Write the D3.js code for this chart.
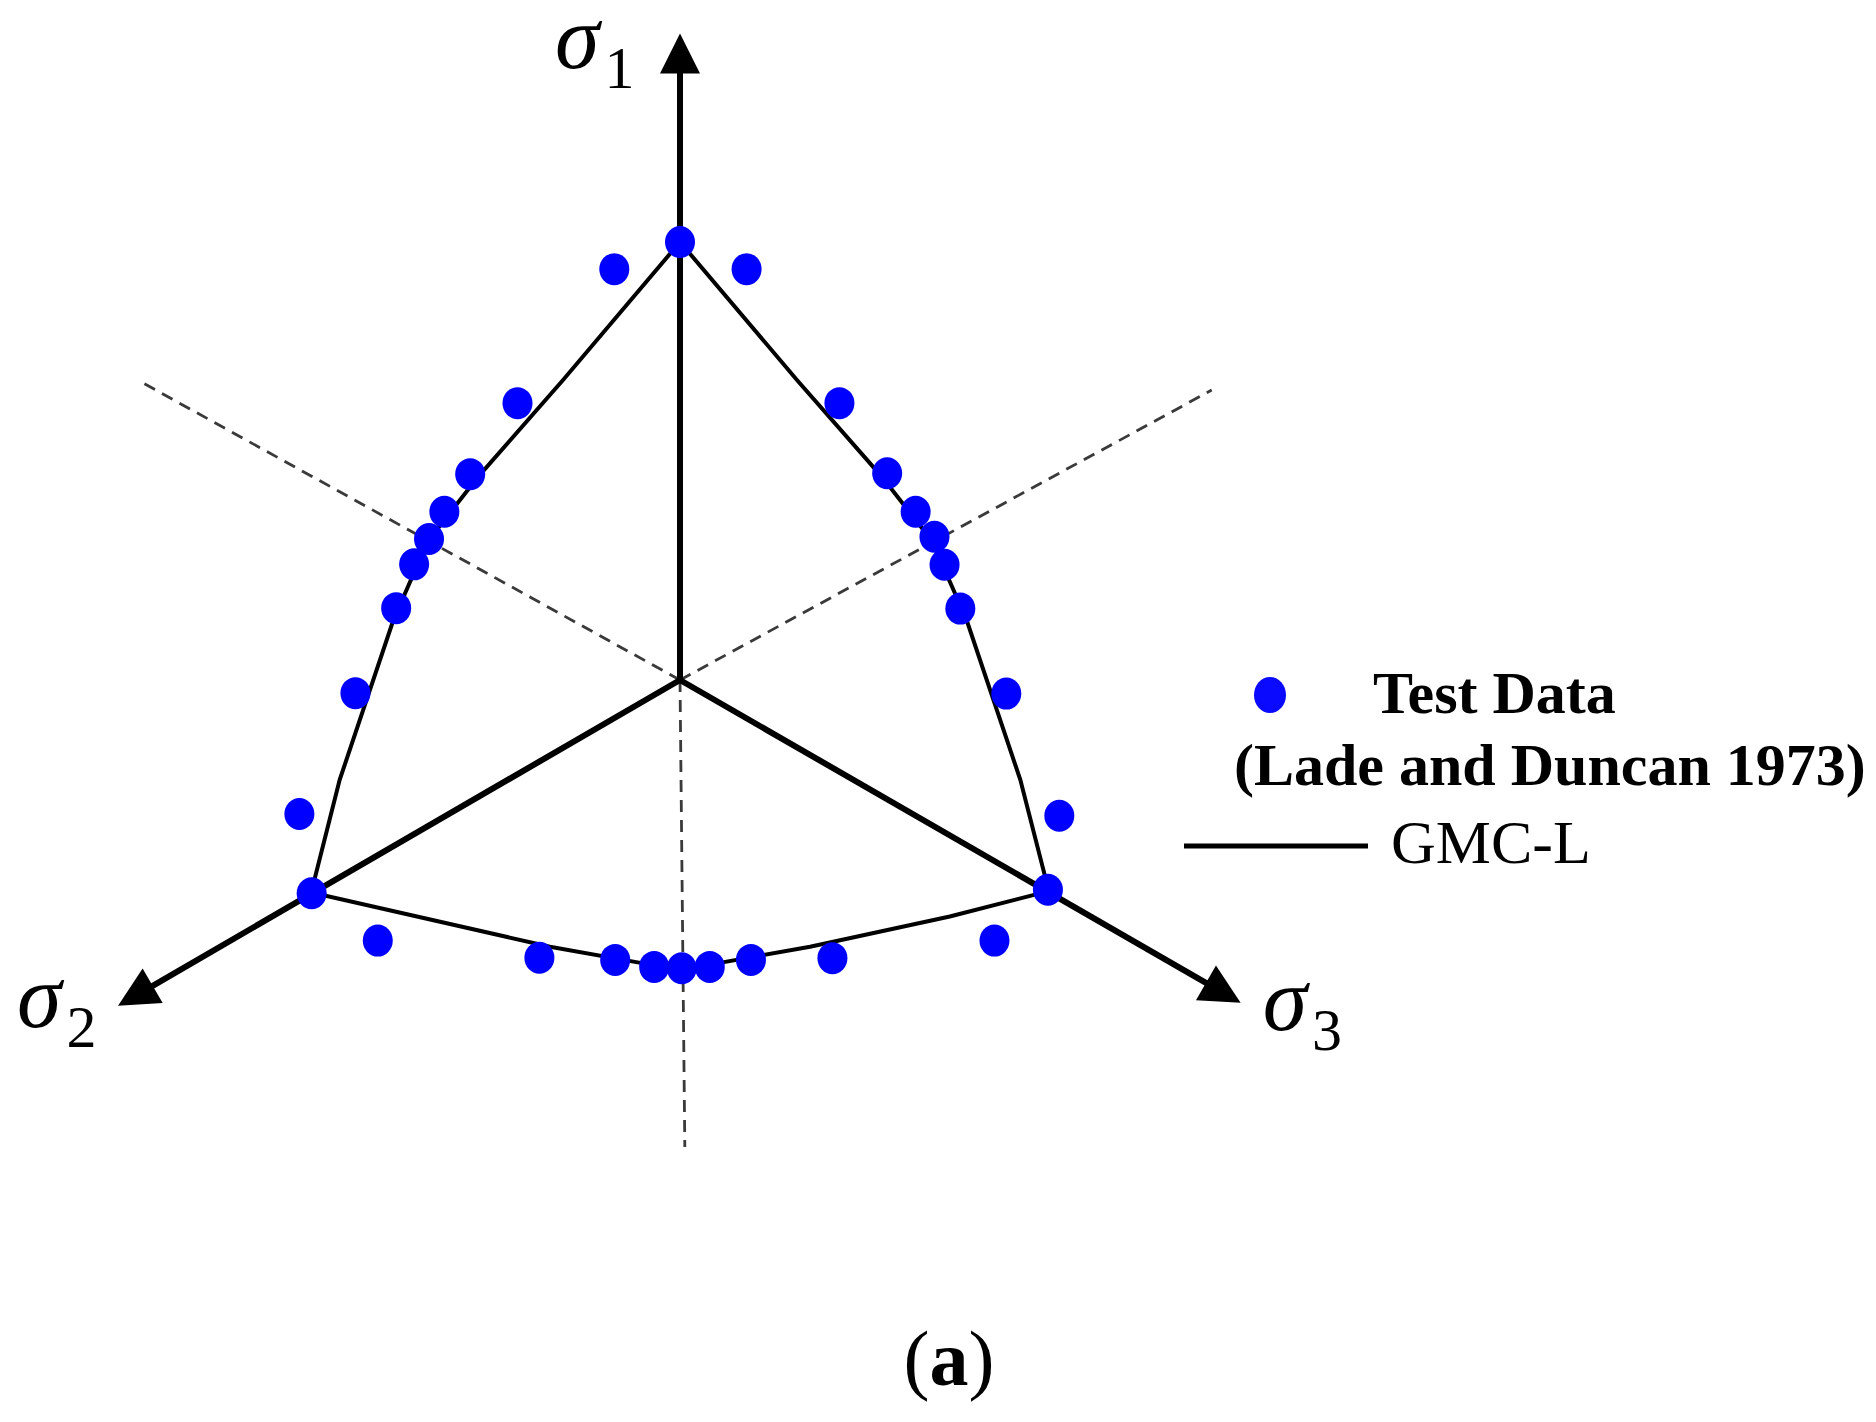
<!DOCTYPE html>
<html>
<head>
<meta charset="utf-8">
<script src="https://cdn.jsdelivr.net/npm/d3@7"></script>
<style>
  body { margin: 0; background: #fff; }
  text { font-family: "Liberation Serif", "Times New Roman", serif; fill: #000; }
</style>
</head>
<body>
<div id="chart"></div>
<script>
var width = 1876,
    height = 1422;

// deviatoric (pi-plane) coordinates, sigma1 vertex of the surface = 1
var testX = [0, -0.150, 0.152, -0.371, 0.364, -0.479, 0.473, -0.538, 0.538, -0.573, 0.581,
             -0.607, 0.604, -0.648, 0.640, -0.741, 0.745, -0.869, 0.866, -0.841, 0.840,
             -0.690, 0.718, -0.321, 0.348, -0.148, 0.162, -0.059, 0.068, 0.004];
var testY = [1.0, 0.938, 0.938, 0.632, 0.632, 0.470, 0.472, 0.384, 0.384, 0.322, 0.327,
             0.264, 0.263, 0.164, 0.163, -0.030, -0.031, -0.306, -0.310, -0.487, -0.479,
             -0.595, -0.595, -0.634, -0.635, -0.639, -0.639, -0.655, -0.655, -0.658];

// GMC-L failure surface trace
var gmcX = [0, 0.267, 0.460, 0.575, 0.654, 0.777, 0.842, 0.616, 0.297, 0.084, 0,
            -0.084, -0.297, -0.842, -0.777, -0.654, -0.575, -0.460, -0.267, 0];
var gmcY = [1.0, 0.685, 0.465, 0.318, 0.138, -0.228, -0.482, -0.540, -0.609, -0.647, -0.655,
            -0.647, -0.609, -0.485, -0.228, 0.138, 0.318, 0.465, 0.685, 1.0];

// principal stress axes (arrow tips) and dashed reference lines
var axisNames = ["1", "2", "3"];
var axisTipX = [0, -1.283, 1.280];
var axisTipY = [1.476, -0.744, -0.737];
var refEndX = [-1.224, 1.214, 0.011];
var refEndY = [0.677, 0.662, -1.066];

var legendLabels = ["Test Data", "(Lade and Duncan 1973)", "GMC-L"];

var cx = 680, cy = 680, R = 438;
var x = d3.scaleLinear().domain([-1, 1]).range([cx - R, cx + R]);
var y = d3.scaleLinear().domain([-1, 1]).range([cy + R, cy - R]);

var svg = d3.select("#chart").append("svg")
    .attr("width", width)
    .attr("height", height);

svg.append("rect").attr("width", width).attr("height", height).attr("fill", "#fff");

var g = svg.append("g");

// dashed reference lines
g.selectAll(".ref")
  .data(refEndX)
  .enter().append("line")
    .attr("class", "ref")
    .attr("x1", x(0)).attr("y1", y(0))
    .attr("x2", function(d) { return x(d); })
    .attr("y2", function(d, i) { return y(refEndY[i]); })
    .attr("stroke", "#3a3a3a")
    .attr("stroke-width", 2.8)
    .attr("stroke-dasharray", "12,8");

// axes with arrow heads
var headLen = 40, headHalf = 20;
axisNames.forEach(function(name, i) {
  var tx = x(axisTipX[i]), ty = y(axisTipY[i]);
  var ox = x(0), oy = y(0);
  var len = Math.hypot(tx - ox, ty - oy);
  var ux = (tx - ox) / len, uy = (ty - oy) / len;
  var bx = tx - ux * headLen, by = ty - uy * headLen;
  g.append("line")
    .attr("x1", ox).attr("y1", oy)
    .attr("x2", bx + ux * 2).attr("y2", by + uy * 2)
    .attr("stroke", "#000")
    .attr("stroke-width", 6);
  g.append("path")
    .attr("d", "M" + tx + "," + ty +
               "L" + (bx - uy * headHalf) + "," + (by + ux * headHalf) +
               "L" + (bx + uy * headHalf) + "," + (by - ux * headHalf) + "Z")
    .attr("fill", "#000");
});

// axis labels (offsets from arrow tips)
var labelOffset = [[-125, 34], [-101, 21], [22, 27]];
axisNames.forEach(function(name, i) {
  var t = g.append("text")
    .attr("x", x(axisTipX[i]) + labelOffset[i][0])
    .attr("y", y(axisTipY[i]) + labelOffset[i][1])
    .attr("font-size", 90);
  t.append("tspan").attr("font-style", "italic").text("σ");
  t.append("tspan").attr("font-size", 60).attr("dx", 5).attr("dy", 20).text(name);
});

// GMC-L surface
var line = d3.line()
  .x(function(d) { return x(d[0]); })
  .y(function(d) { return y(d[1]); });

g.append("path")
  .datum(gmcX.map(function(d, i) { return [d, gmcY[i]]; }))
  .attr("d", line)
  .attr("fill", "none")
  .attr("stroke", "#000")
  .attr("stroke-width", 4)
  .attr("stroke-linejoin", "miter");

// test data points
g.selectAll(".pt")
  .data(testX)
  .enter().append("ellipse")
    .attr("class", "pt")
    .attr("cx", function(d) { return x(d); })
    .attr("cy", function(d, i) { return y(testY[i]); })
    .attr("rx", 15)
    .attr("ry", 16)
    .attr("fill", "#0000ff");

// legend
var legend = svg.append("g").attr("class", "legend");
legend.append("ellipse")
  .attr("cx", 1270).attr("cy", 695)
  .attr("rx", 16).attr("ry", 18)
  .attr("fill", "#0a0aff");
legend.append("text")
  .attr("x", 1373).attr("y", 713)
  .attr("font-size", 60).attr("font-weight", "bold")
  .text(legendLabels[0]);
legend.append("text")
  .attr("x", 1234).attr("y", 785)
  .attr("font-size", 60).attr("font-weight", "bold")
  .text(legendLabels[1]);
legend.append("line")
  .attr("x1", 1184).attr("x2", 1368)
  .attr("y1", 846).attr("y2", 846)
  .attr("stroke", "#000").attr("stroke-width", 5);
legend.append("text")
  .attr("x", 1391).attr("y", 863)
  .attr("font-size", 62)
  .text(legendLabels[2]);

// panel tag
var tag = svg.append("text")
  .attr("x", 949).attr("y", 1385)
  .attr("text-anchor", "middle")
  .attr("font-size", 78);
tag.append("tspan").text("(");
tag.append("tspan").attr("font-weight", "bold").text("a");
tag.append("tspan").text(")");
</script>
</body>
</html>
